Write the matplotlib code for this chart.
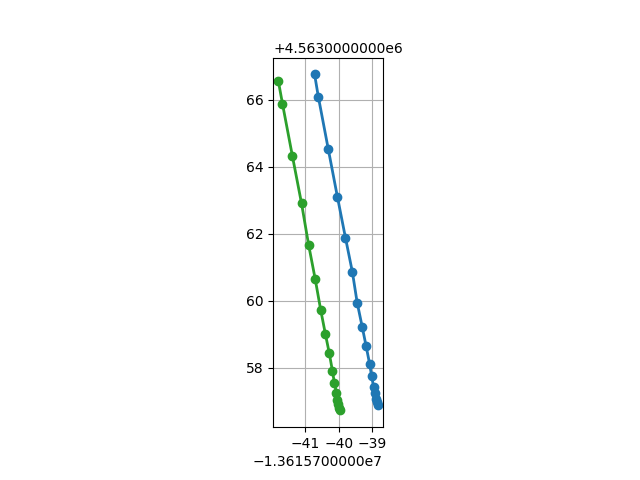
import numpy as np
import matplotlib.pyplot as plt
from matplotlib.ticker import ScalarFormatter

# two tracks in projected coordinates (metres)
blue_x = np.array([-13615740.72, -13615740.61, -13615740.31, -13615740.04, -13615739.80,
                   -13615739.59, -13615739.45, -13615739.30, -13615739.18, -13615739.08,
                   -13615739.02, -13615738.96, -13615738.93, -13615738.90, -13615738.87,
                   -13615738.84])
blue_y = np.array([4563066.75, 4563066.09, 4563064.51, 4563063.10, 4563061.88,
                   4563060.84, 4563059.94, 4563059.22, 4563058.63, 4563058.12,
                   4563057.76, 4563057.43, 4563057.25, 4563057.07, 4563056.96,
                   4563056.87])

green_x = np.array([-13615741.80, -13615741.68, -13615741.38, -13615741.11, -13615740.90,
                    -13615740.70, -13615740.54, -13615740.40, -13615740.28, -13615740.19,
                    -13615740.13, -13615740.07, -13615740.04, -13615740.01, -13615739.98,
                    -13615739.95])
green_y = np.array([4563066.54, 4563065.88, 4563064.30, 4563062.90, 4563061.67,
                    4563060.63, 4563059.73, 4563059.01, 4563058.42, 4563057.91,
                    4563057.55, 4563057.25, 4563057.04, 4563056.90, 4563056.78,
                    4563056.72])

X_OFFSET = -13615700
Y_OFFSET = 4563000


class LongOffsetFormatter(ScalarFormatter):
    """offset text written out with 10 decimals, like older matplotlib"""
    def get_offset(self):
        if not self.offset:
            return ''
        s = '%1.10e' % self.offset
        mant, exp = s.split('e')
        s = mant + 'e' + str(int(exp))
        if self.offset > 0:
            s = '+' + s
        return s.replace('-', '\u2212')


fig, ax = plt.subplots(figsize=(6.4, 4.8), dpi=100)
ax.plot(blue_x, blue_y, '-o', color='tab:blue', linewidth=2)
ax.plot(green_x, green_y, '-o', color='tab:green', linewidth=2)
ax.set_aspect('equal')
ax.grid(True)

ax.xaxis.set_major_formatter(LongOffsetFormatter(useOffset=X_OFFSET))
ax.yaxis.set_major_formatter(LongOffsetFormatter(useOffset=Y_OFFSET))

fig.savefig('out.png')
